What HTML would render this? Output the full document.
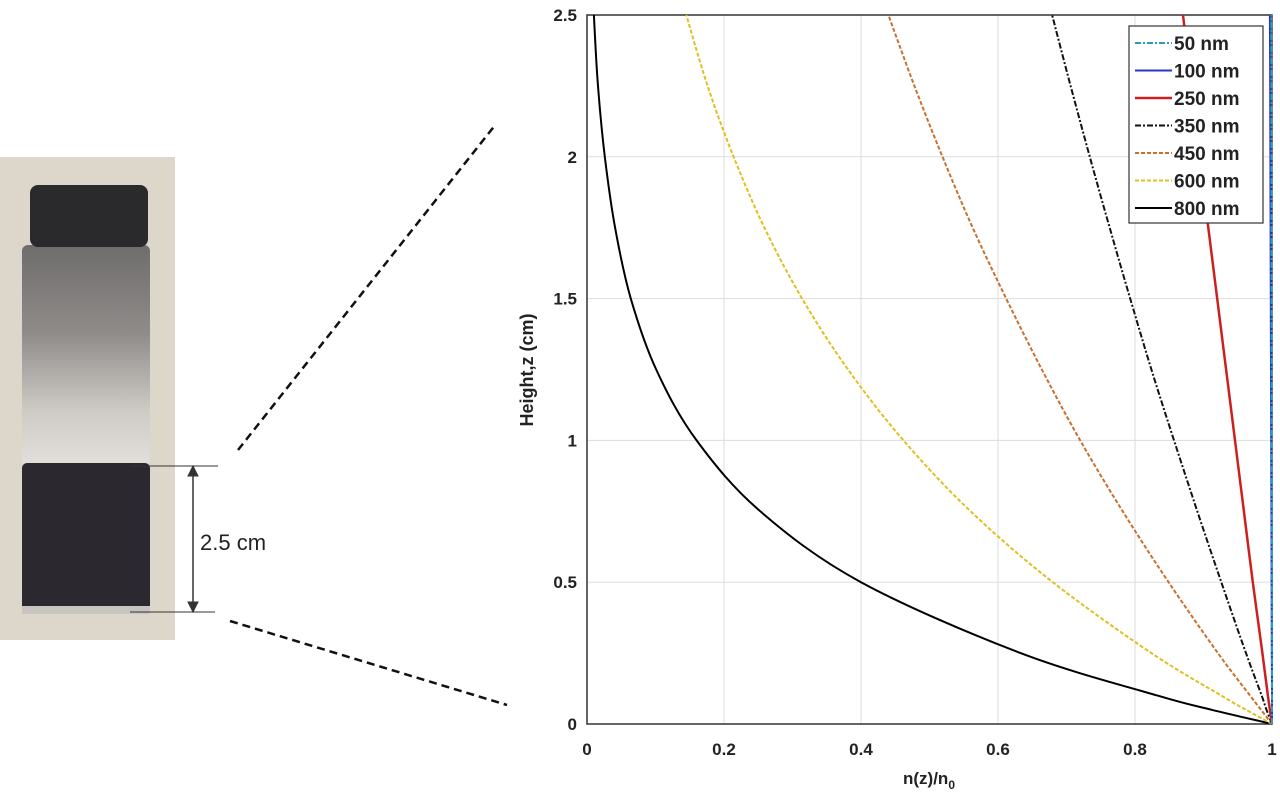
<!DOCTYPE html>
<html><head><meta charset="utf-8"><style>
body{margin:0;background:#fff;width:1280px;height:801px;overflow:hidden}
svg text{font-family:"Liberation Sans",Arial,sans-serif}
</style></head><body>
<svg width="1280" height="801" viewBox="0 0 1280 801">
<defs>
<linearGradient id="glass" x1="0" x2="0" y1="0" y2="1">
<stop offset="0" stop-color="#6f6c6c"/><stop offset="0.4" stop-color="#8f8c8a"/><stop offset="0.75" stop-color="#cfcbc6"/><stop offset="1" stop-color="#e3e0dc"/></linearGradient>
</defs>
<g>
<rect x="0" y="157" width="175" height="483" fill="#ddd6ca"/>
<rect x="22" y="245" width="128" height="222" rx="6" fill="url(#glass)"/>
<rect x="22" y="463" width="128" height="150" rx="5" fill="#2c2830"/>
<rect x="22" y="606" width="128" height="8" fill="#c8c4c0"/>
<rect x="30" y="185" width="118" height="62" rx="8" fill="#2a2a2d"/>
</g>
<g stroke="#333" stroke-width="1">
<line x1="130" y1="466" x2="218" y2="466"/><line x1="130" y1="612" x2="215" y2="612"/>
<line x1="193" y1="470" x2="193" y2="608" stroke-width="1.5"/>
<path d="M188,476 L193,466 L198,476 Z M188,602 L193,612 L198,602 Z" fill="#333"/>
</g>
<text x="200" y="550" font-size="22" fill="#222">2.5 cm</text>
<line x1="238" y1="450" x2="496" y2="124" stroke="#111" stroke-width="2.5" stroke-dasharray="8,5"/>
<line x1="230" y1="621" x2="507" y2="705" stroke="#111" stroke-width="2.5" stroke-dasharray="8,5"/>
<g id="chart"></g>
</svg>
<script>
const zVals=[0,0.05,0.1,0.25,0.5,0.75,1,1.25,1.5,1.75,2,2.25,2.5];
const s50=[1,1,1,0.9999,0.9998,0.9997,0.9996,0.9995,0.9994,0.9993,0.9992,0.9991,0.999];
const s100=[1,1,1,0.9997,0.9994,0.9991,0.9988,0.9985,0.9982,0.9979,0.9976,0.9973,0.997];
const s250=[1,0.997,0.994,0.986,0.972,0.959,0.946,0.933,0.920,0.907,0.894,0.882,0.870];
const s350=[1,0.992,0.985,0.962,0.926,0.891,0.857,0.824,0.793,0.763,0.734,0.706,0.679];
const s450=[1,0.984,0.968,0.921,0.849,0.782,0.720,0.664,0.612,0.563,0.519,0.478,0.440];
const s600=[1,0.962,0.926,0.824,0.680,0.560,0.462,0.381,0.314,0.259,0.214,0.176,0.145];
const s800=[1,0.912,0.833,0.633,0.400,0.253,0.160,0.101,0.064,0.041,0.026,0.016,0.010];
const seriesNames=["50 nm","100 nm","250 nm","350 nm","450 nm","600 nm","800 nm"];
const xTicks=[0,0.2,0.4,0.6,0.8,1];
const yTicks=[0,0.5,1,1.5,2,2.5];
const seriesData=[s50,s100,s250,s350,s450,s600,s800];
const colors=["#2aa0b8","#2a35c8","#cc2020","#111","#c87030","#e0c020","#000"];
const dashes=["6,2,2,2","","","6,2,2,2","4,2","4,2",""];
const widths=[2,2,2.5,2,2,2,2];
const L=587,R=1272,T=15,B=724;
const X=v=>L+v*(R-L), Y=v=>B-v/2.5*(B-T);
const g=document.getElementById('chart');
const NS="http://www.w3.org/2000/svg";
function mk(t,a,p){const e=document.createElementNS(NS,t);for(const k in a)e.setAttribute(k,a[k]);(p||g).appendChild(e);return e;}
function smooth(pts){
let d='M'+pts[0][0].toFixed(1)+','+pts[0][1].toFixed(1);
for(let i=0;i<pts.length-1;i++){
const p0=pts[Math.max(0,i-1)],p1=pts[i],p2=pts[i+1],p3=pts[Math.min(pts.length-1,i+2)];
const c1=[p1[0]+(p2[0]-p0[0])/6,p1[1]+(p2[1]-p0[1])/6];
const c2=[p2[0]-(p3[0]-p1[0])/6,p2[1]-(p3[1]-p1[1])/6];
d+=' C'+c1.map(v=>v.toFixed(1)).join(',')+' '+c2.map(v=>v.toFixed(1)).join(',')+' '+p2[0].toFixed(1)+','+p2[1].toFixed(1);
}
return d;}
for(const v of xTicks){
const l=mk('line',{x1:X(v),x2:X(v),y1:T,y2:B,stroke:'#ddd'});


const t=mk('text',{x:X(v),y:755,'font-size':17,'font-weight':'bold','text-anchor':'middle',fill:'#222'});t.textContent=v;


}
for(const v of yTicks){
const l=mk('line',{x1:L,x2:R,y1:Y(v),y2:Y(v),stroke:'#ddd'});


const t=mk('text',{x:577,y:Y(v)+6,'font-size':17,'font-weight':'bold','text-anchor':'end',fill:'#222'});t.textContent=v;


}
const fr=mk('rect',{x:L,y:T,width:R-L,height:B-T,fill:'none',stroke:'#333','stroke-width':1.5});


for(let i=seriesData.length-1;i>=0;i--){
const pts=seriesData[i].map((v,j)=>[X(v),Y(zVals[j])]);
const p=mk('path',{d:smooth(pts),fill:'none',stroke:colors[i],'stroke-width':widths[i],'stroke-dasharray':dashes[i]});


}
const lg=mk('g',{});


mk('rect',{x:1129,y:26,width:134,height:197,fill:'#fff',stroke:'#333','stroke-width':1.2},lg);
seriesNames.forEach((n,i)=>{
const y=43+i*27.5;
mk('line',{x1:1135,x2:1172,y1:y,y2:y,stroke:colors[i],'stroke-width':widths[i],'stroke-dasharray':dashes[i]},lg);
const t=mk('text',{x:1174,y:y+7,'font-size':19,'font-weight':'bold',fill:'#222'},lg);t.textContent=n;


});
const xl=mk('text',{x:929,y:784,'font-size':17,'font-weight':'bold','text-anchor':'middle',fill:'#222'});
xl.innerHTML='n(z)/n<tspan dy="5" font-size="12">0</tspan>';


const yl=mk('text',{x:0,y:0,'font-size':18,'font-weight':'bold','text-anchor':'middle',fill:'#222',transform:'translate(533,370) rotate(-90)'});
yl.textContent='Height,z (cm)';


</script>
</body></html>
